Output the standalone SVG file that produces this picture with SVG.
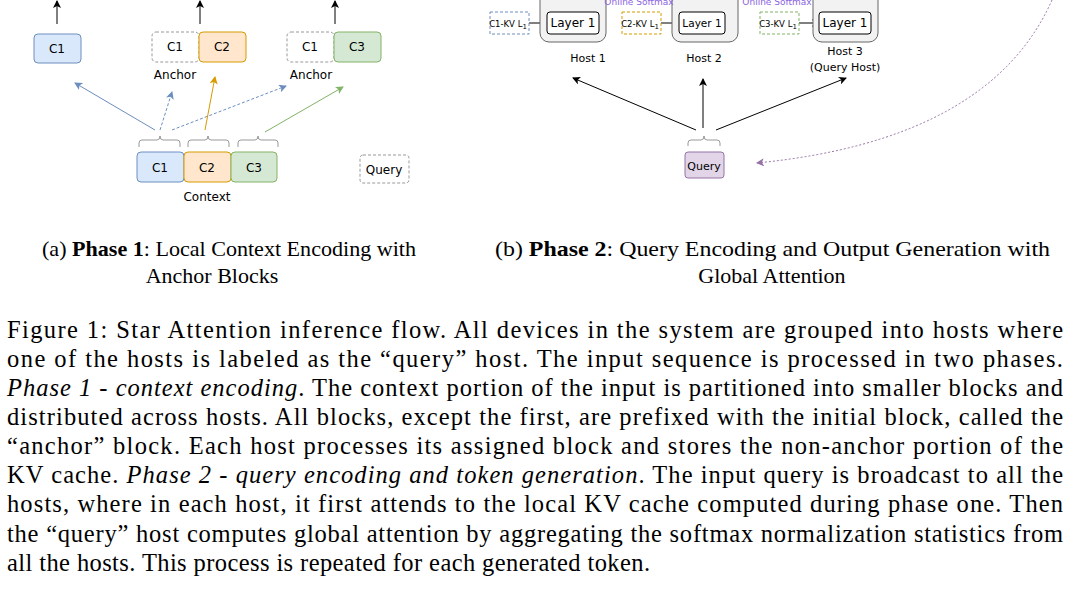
<svg xmlns="http://www.w3.org/2000/svg" width="1084" height="600" viewBox="0 0 1084 600">
<style>
.s{font-family:"DejaVu Sans","Noto Sans",sans-serif;font-size:12px;fill:#000;text-anchor:middle}
.sm{font-family:"DejaVu Sans",sans-serif;font-size:11px;fill:#000;text-anchor:middle}
.kv{font-family:"DejaVu Sans",sans-serif;font-size:8.5px;fill:#000;text-anchor:middle}
.cap{font-family:"Liberation Serif","Times New Roman",serif;font-size:22px;fill:#000}
.fig{font-family:"Liberation Serif","Times New Roman",serif;font-size:24.5px;fill:#000}
.blue{fill:#dae8fc;stroke:#6c8ebf}
.org{fill:#ffe6cc;stroke:#d79b00}
.grn{fill:#d5e8d4;stroke:#82b366}
.dash{fill:#fff;stroke:#999;stroke-dasharray:3 2}
.brace{fill:none;stroke:#999;stroke-width:1}
.host{fill:#f2f2f2;stroke:#666;stroke-width:1}
.layer{fill:#fff;stroke:#000;stroke-width:1}
.os{font-family:"DejaVu Sans",sans-serif;font-size:9px;fill:#8a63e0;text-anchor:middle}
</style>
<defs>
<marker id="ak" markerWidth="8" markerHeight="8" refX="7" refY="4" orient="auto" markerUnits="userSpaceOnUse"><path d="M0,0 L8,4 L0,8 L2,4z" fill="#000"/></marker>
<marker id="ab" markerWidth="8" markerHeight="8" refX="7" refY="4" orient="auto" markerUnits="userSpaceOnUse"><path d="M0,0 L8,4 L0,8 L2,4z" fill="#6c8ebf"/></marker>
<marker id="ao" markerWidth="8" markerHeight="8" refX="7" refY="4" orient="auto" markerUnits="userSpaceOnUse"><path d="M0,0 L8,4 L0,8 L2,4z" fill="#d79b00"/></marker>
<marker id="ag" markerWidth="8" markerHeight="8" refX="7" refY="4" orient="auto" markerUnits="userSpaceOnUse"><path d="M0,0 L8,4 L0,8 L2,4z" fill="#82b366"/></marker>
<marker id="ap" markerWidth="8" markerHeight="8" refX="7" refY="4" orient="auto" markerUnits="userSpaceOnUse"><path d="M0,0 L8,4 L0,8 L2,4z" fill="#9673a6"/></marker>
</defs>

<g id="connectors" fill="none">
<line x1="57" y1="24" x2="57" y2="1" stroke="#000" marker-end="url(#ak)"/>
<line x1="200" y1="24" x2="200" y2="1" stroke="#000" marker-end="url(#ak)"/>
<line x1="335" y1="24" x2="335" y2="1" stroke="#000" marker-end="url(#ak)"/>
<line x1="155" y1="130" x2="75" y2="83" stroke="#6c8ebf" marker-end="url(#ab)"/>
<line x1="160" y1="130" x2="172" y2="92" stroke="#6c8ebf" stroke-dasharray="3 2" marker-end="url(#ab)"/>
<line x1="172" y1="130" x2="286" y2="86" stroke="#6c8ebf" stroke-dasharray="3 2" marker-end="url(#ab)"/>
<line x1="205" y1="130" x2="215" y2="77" stroke="#d79b00" marker-end="url(#ao)"/>
<line x1="265" y1="132" x2="343" y2="87" stroke="#82b366" marker-end="url(#ag)"/>
<line x1="529" y1="23" x2="547" y2="23" stroke="#000" marker-end="url(#ak)"/>
<line x1="661" y1="23" x2="679" y2="23" stroke="#000" marker-end="url(#ak)"/>
<line x1="799" y1="23" x2="819" y2="23" stroke="#000" marker-end="url(#ak)"/>
<line x1="572" y1="12" x2="572" y2="0" stroke="#000"/>
<line x1="706" y1="12" x2="706" y2="0" stroke="#000"/>
<line x1="846" y1="12" x2="846" y2="0" stroke="#000"/>
<line x1="696" y1="130" x2="573" y2="78" stroke="#000" marker-end="url(#ak)"/>
<line x1="703" y1="128" x2="703" y2="79" stroke="#000" marker-end="url(#ak)"/>
<line x1="716" y1="130" x2="846" y2="78" stroke="#000" marker-end="url(#ak)"/>
<path d="M1052,0 Q990,140 757,163" stroke="#9673a6" stroke-dasharray="2 2" marker-end="url(#ap)"/>
</g>

<g id="out-c1"><rect x="34" y="34" width="47" height="29" rx="4" class="blue"/><text x="57" y="53" class="s">C1</text></g>
<g id="out-c2"><rect x="152" y="32" width="47" height="30" rx="4" class="dash"/><text x="175" y="51" class="s">C1</text>
<rect x="199" y="32" width="47" height="30" rx="4" class="org"/><text x="222" y="51" class="s">C2</text><text x="175" y="79" class="s">Anchor</text></g>
<g id="out-c3"><rect x="287" y="32" width="47" height="30" rx="4" class="dash"/><text x="310" y="51" class="s">C1</text>
<rect x="334" y="32" width="47" height="30" rx="4" class="grn"/><text x="357" y="51" class="s">C3</text><text x="311" y="79" class="s">Anchor</text></g>
<g id="context">
<path class="brace" d="M139,147 V143 Q139,140 142,140 H157 Q160,140 160,136 Q160,140 163,140 H177 Q180,140 180,143 V147"/>
<path class="brace" d="M188,147 V143 Q188,140 191,140 H205 Q208,140 208,136 Q208,140 211,140 H226 Q229,140 229,143 V147"/>
<path class="brace" d="M238,147 V143 Q238,140 241,140 H255 Q258,140 258,136 Q258,140 261,140 H275 Q278,140 278,143 V147"/>
<rect x="137" y="152" width="47" height="30" rx="4" class="blue"/><text x="160" y="172" class="s">C1</text>
<rect x="184" y="152" width="47" height="30" rx="4" class="org"/><text x="207" y="172" class="s">C2</text>
<rect x="231" y="152" width="46" height="30" rx="4" class="grn"/><text x="254" y="172" class="s">C3</text>
<text x="207" y="201" class="s">Context</text></g>
<g id="query-a"><rect x="360" y="155" width="49" height="28" rx="3" class="dash"/><text x="384" y="174" class="s">Query</text></g>

<g id="host1"><rect x="540" y="-30" width="66" height="72" rx="9" class="host"/><rect x="547" y="12" width="52" height="22" rx="3" class="layer"/><text x="573" y="27" class="s">Layer 1</text><text x="588" y="62" class="sm">Host 1</text>
<rect x="490" y="12" width="39" height="22" class="dash" style="stroke:#6c8ebf"/><text x="508" y="27" class="kv">C1-KV L<tspan font-size="7" dy="2">1</tspan></text></g>
<g id="host2"><rect x="672" y="-30" width="66" height="72" rx="9" class="host"/><rect x="679" y="12" width="46" height="22" rx="3" class="layer"/><text x="702" y="27" class="sm" style="font-size:10.5px">Layer 1</text><text x="704" y="62" class="sm">Host 2</text>
<rect x="622" y="12" width="39" height="22" class="dash" style="stroke:#d79b00"/><text x="640" y="27" class="kv">C2-KV L<tspan font-size="7" dy="2">1</tspan></text></g>
<g id="host3"><rect x="813" y="-30" width="65" height="72" rx="9" class="host"/><rect x="819" y="12" width="52" height="22" rx="3" class="layer"/><text x="845" y="27" class="s">Layer 1</text><text x="845" y="55" class="sm">Host 3</text><text x="845" y="71" class="sm">(Query Host)</text>
<rect x="760" y="12" width="39" height="22" class="dash" style="stroke:#82b366"/><text x="778" y="27" class="kv">C3-KV L<tspan font-size="7" dy="2">1</tspan></text></g>
<text x="639" y="5" class="os">Online Softmax</text>
<text x="777" y="5" class="os">Online Softmax</text>
<g id="query-b"><path class="brace" d="M688,146 V143 Q688,140 691,140 H701 Q704,140 704,136 Q704,140 707,140 H717 Q720,140 720,143 V146"/>
<rect x="685" y="152" width="39" height="26" rx="3" fill="#e1d5e7" stroke="#9673a6"/><text x="704" y="170" class="sm">Query</text></g>

<text x="42" y="256" class="cap" textLength="374" lengthAdjust="spacingAndGlyphs">(a) <tspan font-weight="bold">Phase 1</tspan>: Local Context Encoding with</text>
<text x="212" y="283" class="cap" text-anchor="middle">Anchor Blocks</text>
<text x="495" y="256" class="cap" textLength="555" lengthAdjust="spacingAndGlyphs">(b) <tspan font-weight="bold">Phase 2</tspan>: Query Encoding and Output Generation with</text>
<text x="772" y="283" class="cap" text-anchor="middle">Global Attention</text>

<g>
<text x="7" y="338" class="fig" textLength="1056" lengthAdjust="spacing">Figure 1: Star Attention inference flow.  All devices in the system are grouped into hosts where</text>
<text x="7" y="367" class="fig" textLength="1056" lengthAdjust="spacing">one of the hosts is labeled as the “query” host.  The input sequence is processed in two phases.</text>
<text x="7" y="396" class="fig" textLength="1056" lengthAdjust="spacing"><tspan font-style="italic">Phase 1 - context encoding</tspan>. The context portion of the input is partitioned into smaller blocks and</text>
<text x="7" y="425" class="fig" textLength="1056" lengthAdjust="spacing">distributed across hosts.  All blocks, except the first, are prefixed with the initial block, called the</text>
<text x="7" y="454" class="fig" textLength="1056" lengthAdjust="spacing">“anchor” block.  Each host processes its assigned block and stores the non-anchor portion of the</text>
<text x="7" y="483" class="fig" textLength="1056" lengthAdjust="spacing">KV cache. <tspan font-style="italic">Phase 2 - query encoding and token generation</tspan>. The input query is broadcast to all the</text>
<text x="7" y="512" class="fig" textLength="1056" lengthAdjust="spacing">hosts, where in each host, it first attends to the local KV cache computed during phase one.  Then</text>
<text x="7" y="542" class="fig" textLength="1056" lengthAdjust="spacing">the “query” host computes global attention by aggregating the softmax normalization statistics from</text>
<text x="7" y="571" class="fig" textLength="643" lengthAdjust="spacing">all the hosts. This process is repeated for each generated token.</text>
</g>
</svg>
